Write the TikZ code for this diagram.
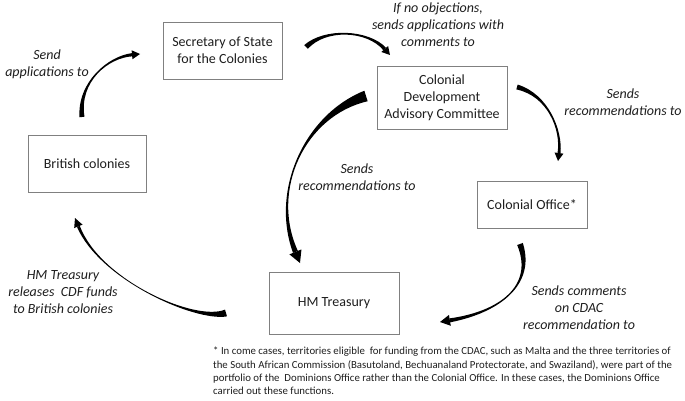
\documentclass[tikz,border=0pt]{standalone}
\usepackage{fontspec}
\setmainfont{Carlito}
\usetikzlibrary{calc}
\definecolor{boxgray}{RGB}{128,128,128}
\definecolor{txt}{RGB}{30,30,30}
% #1 prefix, #2 half width at tail, #3 at first control, #4 at second control, #5 at end, #6 tip length, #7 tip half width
\newcommand\swoosh[7]{%
  \coordinate (#1e) at ($(#1t)!#6!(#1b)$);
  \fill ($(#1s)!#2!90:(#1a)$) .. controls ($(#1a)!#3!-90:(#1s)$) and ($(#1b)!#4!90:(#1e)$) .. ($(#1e)!#5!-90:(#1b)$)
     -- ($(#1e)!#5!90:(#1b)$) .. controls ($(#1b)!#4!-90:(#1e)$) and ($(#1a)!#3!90:(#1s)$) .. ($(#1s)!#2!-90:(#1a)$) -- cycle;
  \fill (#1t) -- ($(#1e)!#7!90:(#1b)$) -- ($(#1e)!#7!-90:(#1b)$) -- cycle;
}
\begin{document}
\begin{tikzpicture}[x=1pt,y=-1pt,
  box/.style={draw=boxgray,line width=0.8pt,align=center,inner sep=0pt,text=txt,
    font=\fontsize{14}{17}\selectfont},
  lab/.style={align=center,inner sep=0pt,text=txt,font=\fontsize{14}{17}\selectfont\itshape},
  foot/.style={align=left,inner sep=0pt,text=txt,anchor=north west,font=\fontsize{10.8}{13.2}\selectfont}]
\useasboundingbox (0,0) rectangle (685,401);
% boxes
\node[box,minimum width=119pt,minimum height=57pt] (sec) at (222.5,50.5) {Secretary of State\\for the Colonies};
\node[box,minimum width=130pt,minimum height=63pt] (cdac) at (442,97.5) {Colonial\\Development\\Advisory Committee};
\node[box,minimum width=118pt,minimum height=57pt] (brit) at (87,163.5) {British colonies};
\node[box,minimum width=110pt,minimum height=47pt] (co) at (532,204.5) {Colonial Office*};
\node[box,minimum width=130pt,minimum height=62pt] (hmt) at (334,303) {HM Treasury};
% labels
\node[lab] (l1) at (47,64) {Send\\applications to};
\node[lab] (l2) at (438,25) {If no objections,\\sends applications with\\comments to};
\node[lab] (l3) at (623,102.5) {Sends\\recommendations to};
\node[lab] (l4) at (357,177) {Sends\\recommendations to};
\node[lab] (l5) at (63,292) {HM Treasury\\releases\ \ CDF funds\\to British colonies};
\node[lab] (l6) at (579,308) {Sends comments\\on CDAC\\recommendation to};
\node[foot] (fn) at (213,347) {* In come cases, territories eligible\ \ for funding from the CDAC, such as Malta and the three territories of\\
the South African Commission (Basutoland, Bechuanaland Protectorate, and Swaziland), were part of the\\
portfolio of the\ \ Dominions Office rather than the Colonial Office. In these cases, the Dominions Office\\
carried out these functions.};
% arrows
\coordinate (As) at (82,117); \coordinate (Aa) at (78,82); \coordinate (Ab) at (108,57); \coordinate (At) at (140,54);
\swoosh{A}{2.5pt}{0.8pt}{0.8pt}{1.6pt}{8pt}{4.5pt}
\coordinate (Bs) at (306,47); \coordinate (Ba) at (325,28); \coordinate (Bb) at (368,30); \coordinate (Bt) at (390,55);
\swoosh{B}{2.6pt}{1pt}{1pt}{1.8pt}{8pt}{4.5pt}
\coordinate (Cs) at (517,87); \coordinate (Ca) at (548,95); \coordinate (Cb) at (562,130); \coordinate (Ct) at (558,161);
\swoosh{C}{2.5pt}{1pt}{0.8pt}{1.5pt}{8pt}{4.5pt}
\coordinate (Ds) at (366,96); \coordinate (Da) at (305,115); \coordinate (Db) at (270,190); \coordinate (Dt) at (300,263);
\swoosh{D}{5.5pt}{0.6pt}{0pt}{2.6pt}{12pt}{6.5pt}
\coordinate (Es) at (520,244); \coordinate (Ea) at (535,285); \coordinate (Eb) at (500,312); \coordinate (Et) at (440,322);
\swoosh{E}{3pt}{1pt}{0.5pt}{2pt}{10pt}{5.5pt}
\coordinate (Fs) at (226,313); \coordinate (Fa) at (195,322); \coordinate (Fb) at (100,280); \coordinate (Ft) at (75,218);
\swoosh{F}{3.5pt}{0pt}{0pt}{1.5pt}{9pt}{4.5pt}
\end{tikzpicture}
\end{document}
